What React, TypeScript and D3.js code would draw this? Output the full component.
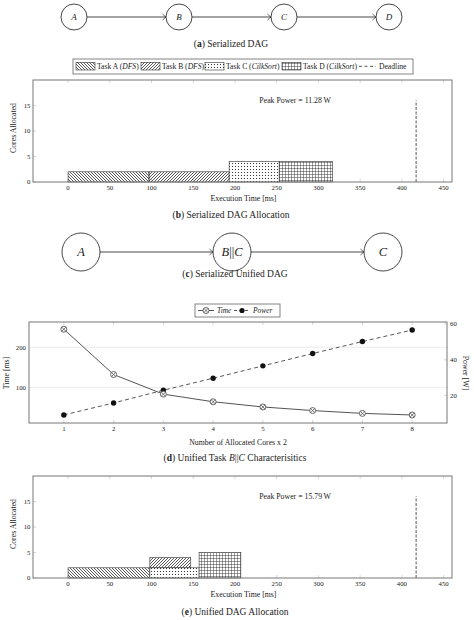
import React from "react";
import * as d3 from "d3";

// ---------- data ----------
const dagSerialNodes = ["A", "B", "C", "D"];
const dagUnifiedNodes = ["A", "B||C", "C"];

const taskNames = ["Task A", "Task B", "Task C", "Task D"];
const taskKernels = ["DFS", "DFS", "CilkSort", "CilkSort"];

const serialStart = [0, 97, 193, 253];
const serialEnd = [97, 193, 253, 317];
const serialBase = [0, 0, 0, 0];
const serialCores = [2, 2, 4, 4];
const serialPeak = "11.28";

const unifiedStart = [0, 98, 98, 157];
const unifiedEnd = [98, 147, 157, 207];
const unifiedBase = [0, 2, 0, 0];
const unifiedCores = [2, 2, 2, 5];
const unifiedPeak = "15.79";

const deadlineMs = 417;
const deadlineCores = 16;

const execTicks = [0, 50, 100, 150, 200, 250, 300, 350, 400, 450];
const coreTicks = [0, 5, 10, 15];

const allocCores = [1, 2, 3, 4, 5, 6, 7, 8];
const timeMs = [245, 132, 83, 64, 51, 42, 35, 31];
const powerW = [9.2, 15.9, 23, 29.7, 36.6, 43.5, 50.2, 56.6];
const timeTicks = [100, 200];
const powerTicks = [20, 40, 60];

// ---------- style ----------
const FONT = "'Liberation Serif', 'DejaVu Serif', serif";
const TXT = "#222";
const FRAME = "#777";
const INK = "#333";

function Patterns() {
  return (
    <defs>
      <pattern id="patA" patternUnits="userSpaceOnUse" width="3" height="3">
        <path d="M0,0 L3,3 M-1,2 L1,4 M2,-1 L4,1" stroke="#111" strokeWidth="0.7" />
      </pattern>
      <pattern id="patB" patternUnits="userSpaceOnUse" width="3" height="3">
        <path d="M0,3 L3,0 M-1,1 L1,-1 M2,4 L4,2" stroke="#111" strokeWidth="0.7" />
      </pattern>
      <pattern id="patC" patternUnits="userSpaceOnUse" width="3" height="3">
        <rect width="3" height="3" fill="#fff" />
        <circle cx="1.5" cy="1.5" r="0.55" fill="#111" />
      </pattern>
      <pattern id="patD" patternUnits="userSpaceOnUse" width="3" height="3">
        <rect width="3" height="3" fill="#fff" />
        <path d="M0,0 L3,0 M0,0 L0,3" stroke="#111" strokeWidth="0.8" />
      </pattern>
    </defs>
  );
}
const patIds = ["url(#patA)", "url(#patB)", "url(#patC)", "url(#patD)"];

function Caption({ x, y, letter, children }: any) {
  return (
    <text x={x} y={y} textAnchor="middle" fontSize={9.5} fontFamily={FONT} fill={TXT}>
      <tspan>(</tspan>
      <tspan fontWeight="bold">{letter}</tspan>
      <tspan>) </tspan>
      {children}
    </text>
  );
}

function Dag({ nodes, x0, x1, cy, r, fs }: any) {
  const xs = d3.scaleLinear().domain([0, nodes.length - 1]).range([x0, x1]);
  return (
    <g>
      {nodes.map((n: string, i: number) => {
        const cx = xs(i);
        const parts = n.split("||");
        return (
          <g key={"n" + i}>
            <circle cx={cx} cy={cy} r={r} fill="#fff" stroke={INK} strokeWidth={0.9} />
            <text x={cx} y={cy + fs * 0.35} textAnchor="middle" fontSize={fs} fontFamily={FONT} fill={TXT}>
              {parts.length === 1 ? (
                <tspan fontStyle="italic">{n}</tspan>
              ) : (
                <>
                  <tspan fontStyle="italic">{parts[0]}</tspan>
                  <tspan>||</tspan>
                  <tspan fontStyle="italic">{parts[1]}</tspan>
                </>
              )}
            </text>
            {i < nodes.length - 1 && (() => {
              const xa = cx + r;
              const xb = xs(i + 1) - r;
              return (
                <g>
                  <line x1={xa} y1={cy} x2={xb} y2={cy} stroke={INK} strokeWidth={0.9} />
                  <path
                    d={`M${xb - 3.5},${cy - 3} Q${xb - 1},${cy - 0.6} ${xb},${cy} Q${xb - 1},${cy + 0.6} ${xb - 3.5},${cy + 3}`}
                    fill="none"
                    stroke={INK}
                    strokeWidth={0.8}
                  />
                </g>
              );
            })()}
          </g>
        );
      })}
    </g>
  );
}

function AllocChart({ top, bottom, starts, ends, bases, cores, peak }: any) {
  const left = 33;
  const right = 452;
  const x = d3.scaleLinear().domain([-42, 460]).range([left, right]);
  const y = d3.scaleLinear().domain([0, 20]).range([bottom, top]);
  return (
    <g fontFamily={FONT} fill={TXT}>
      {execTicks.map((t) => (
        <g key={"xt" + t}>
          <line x1={x(t)} x2={x(t)} y1={top} y2={top + 3} stroke="#bbb" strokeWidth={0.6} />
          <line x1={x(t)} x2={x(t)} y1={bottom} y2={bottom - 3} stroke="#bbb" strokeWidth={0.6} />
          <text x={x(t)} y={bottom + 8} textAnchor="middle" fontSize={6.8}>{t}</text>
        </g>
      ))}
      {coreTicks.map((t) => (
        <g key={"yt" + t}>
          <line x1={left} x2={left + 3} y1={y(t)} y2={y(t)} stroke="#bbb" strokeWidth={0.6} />
          <text x={left - 2.5} y={y(t) + 2.4} textAnchor="end" fontSize={6.8}>{t}</text>
        </g>
      ))}
      {starts.map((s: number, i: number) => (
        <rect
          key={"bar" + i}
          x={x(s)}
          y={y(bases[i] + cores[i])}
          width={x(ends[i]) - x(s)}
          height={y(bases[i]) - y(bases[i] + cores[i])}
          fill={patIds[i]}
          stroke={INK}
          strokeWidth={0.6}
        />
      ))}
      <line x1={x(deadlineMs)} x2={x(deadlineMs)} y1={y(0)} y2={y(deadlineCores)} stroke="#444" strokeWidth={0.9} strokeDasharray="3,1.5" />
      <text x={x(272)} y={y(16) + 3} textAnchor="middle" fontSize={7.8}>
        {`Peak Power = ${peak}\u2009W`}
      </text>
      <rect x={left} y={top} width={right - left} height={bottom - top} fill="none" stroke={FRAME} strokeWidth={1} />
      <text x={(left + right) / 2 + 1} y={bottom + 19} textAnchor="middle" fontSize={7.8}>Execution Time [ms]</text>
      <text transform={`translate(${16},${(top + bottom) / 2 - 3}) rotate(-90)`} textAnchor="middle" fontSize={7.8}>Cores Allocated</text>
    </g>
  );
}

function AllocLegend() {
  const itemX = [76, 141, 205, 282];
  const top = 59;
  const bottom = 74;
  return (
    <g fontFamily={FONT} fill={TXT} fontSize={7.6}>
      <rect x={73} y={top} width={340} height={bottom - top} fill="#fff" stroke={FRAME} strokeWidth={0.9} />
      {taskNames.map((n, i) => (
        <g key={"lg" + i}>
          <rect x={itemX[i]} y={62.3} width={19} height={7.7} fill={patIds[i]} stroke={INK} strokeWidth={0.6} />
          <text x={itemX[i] + 21} y={69.3}>
            <tspan>{n} (</tspan>
            <tspan fontStyle="italic">{taskKernels[i]}</tspan>
            <tspan>)</tspan>
          </text>
        </g>
      ))}
      <line x1={359} x2={376} y1={66.3} y2={66.3} stroke="#444" strokeWidth={0.9} strokeDasharray="3,2.5" />
      <text x={379} y={69.3}>Deadline</text>
    </g>
  );
}

function TimeMarker({ cx, cy }: any) {
  const r = 3;
  const d = r * 0.7;
  return (
    <g>
      <circle cx={cx} cy={cy} r={r} fill="#fff" stroke="#555" strokeWidth={0.9} />
      <path d={`M${cx - d},${cy - d} L${cx + d},${cy + d} M${cx - d},${cy + d} L${cx + d},${cy - d}`} stroke="#555" strokeWidth={0.8} />
    </g>
  );
}

function CharChart() {
  const left = 29;
  const right = 447;
  const top = 322;
  const bottom = 423;
  const x = d3.scaleLinear().domain([0.3, 8.7]).range([left, right]);
  const yL = d3.scaleLinear().domain([11, 263]).range([bottom, top]);
  const yR = d3.scaleLinear().domain([4.7, 61.1]).range([bottom, top]);
  const timeLine = d3.line<number>().x((_, i) => x(allocCores[i])).y((d) => yL(d));
  const powerLine = d3.line<number>().x((_, i) => x(allocCores[i])).y((d) => yR(d));
  return (
    <g fontFamily={FONT} fill={TXT}>
      {timeTicks.map((t) => (
        <g key={"tl" + t}>
          <line x1={left} x2={right} y1={yL(t)} y2={yL(t)} stroke="#e3e3e3" strokeWidth={0.7} />
          <text x={left - 3} y={yL(t) + 2.4} textAnchor="end" fontSize={6.8}>{t}</text>
        </g>
      ))}
      {powerTicks.map((t) => (
        <g key={"pr" + t}>
          <line x1={right} x2={right - 3} y1={yR(t)} y2={yR(t)} stroke="#bbb" strokeWidth={0.6} />
          <text x={right + 3} y={yR(t) + 2.4} textAnchor="start" fontSize={6.8}>{t}</text>
        </g>
      ))}
      {allocCores.map((c) => (
        <g key={"xc" + c}>
          <line x1={x(c)} x2={x(c)} y1={top} y2={top + 3} stroke="#bbb" strokeWidth={0.6} />
          <line x1={x(c)} x2={x(c)} y1={bottom} y2={bottom - 3} stroke="#bbb" strokeWidth={0.6} />
          <text x={x(c)} y={bottom + 7.5} textAnchor="middle" fontSize={6.8}>{c}</text>
        </g>
      ))}
      <path d={powerLine(powerW) || ""} fill="none" stroke="#444" strokeWidth={0.9} strokeDasharray="4,3" />
      <path d={timeLine(timeMs) || ""} fill="none" stroke="#555" strokeWidth={1} />
      {powerW.map((p, i) => (
        <circle key={"pm" + i} cx={x(allocCores[i])} cy={yR(p)} r={2.7} fill="#111" />
      ))}
      {timeMs.map((t, i) => (
        <TimeMarker key={"tm" + i} cx={x(allocCores[i])} cy={yL(t)} />
      ))}
      <rect x={left} y={top} width={right - left} height={bottom - top} fill="none" stroke={FRAME} strokeWidth={1} />
      <text x={238} y={444.5} textAnchor="middle" fontSize={7.8}>Number of Allocated Cores x 2</text>
      <text transform={`translate(${9},${373}) rotate(-90)`} textAnchor="middle" fontSize={7.8}>Time [ms]</text>
      <text transform={`translate(${463},${373}) rotate(90)`} textAnchor="middle" fontSize={7.8}>Power [W]</text>
      {/* legend */}
      <rect x={195} y={304} width={85} height={13} fill="#fff" stroke={FRAME} strokeWidth={0.9} />
      <line x1={198} x2={214} y1={310.5} y2={310.5} stroke="#555" strokeWidth={1} />
      <TimeMarker cx={206} cy={310.5} />
      <text x={217} y={313} fontSize={7.4} fontStyle="italic">Time</text>
      <line x1={234} x2={250} y1={310.5} y2={310.5} stroke="#444" strokeWidth={0.9} strokeDasharray="3,2.5" />
      <circle cx={242} cy={310.5} r={2.6} fill="#111" />
      <text x={253} y={313} fontSize={7.4} fontStyle="italic">Power</text>
    </g>
  );
}

export default function App() {
  return (
    <svg
      width={474}
      height={620}
      viewBox="0 0 474 620"
      style={{ position: "absolute", left: 0, top: 0, background: "#fff" }}
    >
      <rect width={474} height={620} fill="#fff" />
      <Patterns />
      {/* (a) */}
      <Dag nodes={dagSerialNodes} x0={74} x1={389} cy={17} r={13} fs={9} />
      <Caption x={231} y={46.5} letter="a">
        <tspan>Serialized DAG</tspan>
      </Caption>
      {/* (b) */}
      <AllocLegend />
      <AllocChart top={80} bottom={182} starts={serialStart} ends={serialEnd} bases={serialBase} cores={serialCores} peak={serialPeak} />
      <Caption x={231} y={217.5} letter="b">
        <tspan>Serialized DAG Allocation</tspan>
      </Caption>
      {/* (c) */}
      <Dag nodes={dagUnifiedNodes} x0={81} x1={383} cy={252} r={19} fs={12.5} />
      <Caption x={235} y={276.5} letter="c">
        <tspan>Serialized Unified DAG</tspan>
      </Caption>
      {/* (d) */}
      <CharChart />
      <Caption x={235} y={461} letter="d">
        <tspan>Unified Task </tspan>
        <tspan fontStyle="italic">B</tspan>
        <tspan>||</tspan>
        <tspan fontStyle="italic">C</tspan>
        <tspan> Characterisitics</tspan>
      </Caption>
      {/* (e) */}
      <AllocChart top={476} bottom={578} starts={unifiedStart} ends={unifiedEnd} bases={unifiedBase} cores={unifiedCores} peak={unifiedPeak} />
      <Caption x={235} y={615} letter="e">
        <tspan>Unified DAG Allocation</tspan>
      </Caption>
    </svg>
  );
}
